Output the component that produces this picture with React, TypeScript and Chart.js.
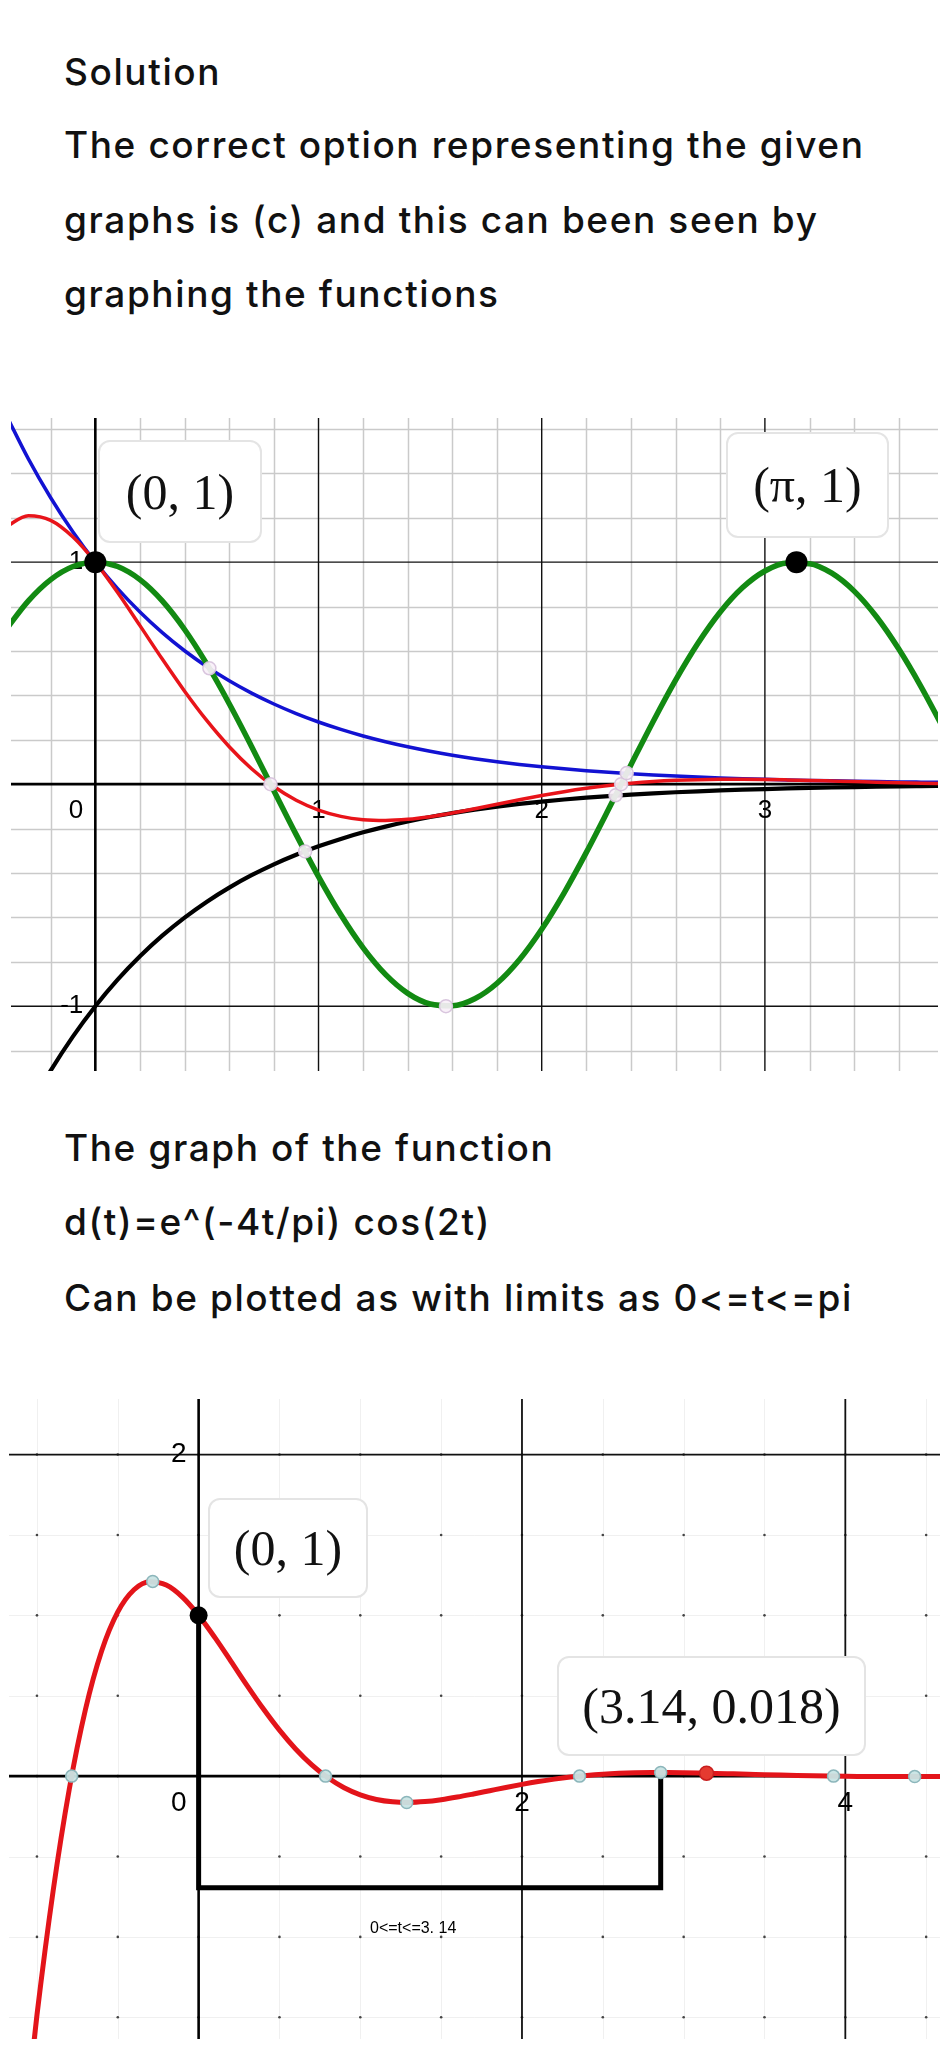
import React, { useEffect, useRef } from 'react';
import Chart from 'chart.js/auto';

// ---------- Graph 1 data (t, cos 2t, e^(-4t/pi), -e^(-4t/pi), product) ----------
const T1 = [-0.4, -0.3, -0.2, -0.1, 0, 0.1, 0.2, 0.3, 0.4, 0.5, 0.6, 0.7, 0.8, 0.9, 1.0, 1.1, 1.2, 1.3, 1.4, 1.5, 1.6, 1.7, 1.8, 1.9, 2.0, 2.1, 2.2, 2.3, 2.4, 2.5, 2.6, 2.7, 2.8, 2.9, 3.0, 3.1, 3.2, 3.3, 3.4, 3.5, 3.6, 3.7, 3.8];
const GREEN1 = [0.6967, 0.8253, 0.9211, 0.9801, 1, 0.9801, 0.9211, 0.8253, 0.6967, 0.5403, 0.3624, 0.17, -0.0292, -0.2272, -0.4161, -0.5885, -0.7374, -0.8569, -0.9422, -0.99, -0.9983, -0.9668, -0.8968, -0.791, -0.6536, -0.4903, -0.3073, -0.1122, 0.0875, 0.2837, 0.4685, 0.6347, 0.7756, 0.8855, 0.9602, 0.9965, 0.9932, 0.9502, 0.8694, 0.7539, 0.6084, 0.4385, 0.2513];
const BLUE1 = [1.6641, 1.4652, 1.29, 1.1358, 1, 0.8804, 0.7752, 0.6825, 0.6009, 0.5291, 0.4658, 0.4101, 0.3611, 0.3179, 0.2799, 0.2465, 0.217, 0.1911, 0.1682, 0.1481, 0.1304, 0.1148, 0.1011, 0.089, 0.0784, 0.069, 0.0607, 0.0535, 0.0471, 0.0415, 0.0365, 0.0321, 0.0283, 0.0249, 0.0219, 0.0193, 0.017, 0.015, 0.0132, 0.0116, 0.0102, 0.009, 0.0079];
const BLACK1 = [-1.6641, -1.4652, -1.29, -1.1358, -1, -0.8804, -0.7752, -0.6825, -0.6009, -0.5291, -0.4658, -0.4101, -0.3611, -0.3179, -0.2799, -0.2465, -0.217, -0.1911, -0.1682, -0.1481, -0.1304, -0.1148, -0.1011, -0.089, -0.0784, -0.069, -0.0607, -0.0535, -0.0471, -0.0415, -0.0365, -0.0321, -0.0283, -0.0249, -0.0219, -0.0193, -0.017, -0.015, -0.0132, -0.0116, -0.0102, -0.009, -0.0079];
const RED1 = [1.1594, 1.2092, 1.1882, 1.1132, 1, 0.8629, 0.714, 0.5633, 0.4187, 0.2859, 0.1688, 0.0697, -0.0105, -0.0722, -0.1165, -0.145, -0.16, -0.1637, -0.1585, -0.1466, -0.1302, -0.111, -0.0907, -0.0704, -0.0512, -0.0338, -0.0187, -0.006, 0.0041, 0.0118, 0.0171, 0.0204, 0.0219, 0.0221, 0.0211, 0.0192, 0.0169, 0.0142, 0.0115, 0.0087, 0.0062, 0.0039, 0.002];
const MARK1_X = [0.511, 0.785, 0.94, 1.571, 2.331, 2.356, 2.381];
const MARK1_Y = [0.522, 0, -0.303, -1, -0.05, 0, 0.05];
const BIG1_X = [0, 3.1416];
const BIG1_Y = [1, 1];
const X1_LABELS = [0, 1, 2, 3];
const Y1_LABELS = [1, -1];

// ---------- Graph 2 data d(t) = e^(-4t/pi) cos(2t) ----------
const T2 = [-1.2, -1.1, -1.0, -0.9, -0.8, -0.7, -0.6, -0.5, -0.4, -0.3, -0.2, -0.1, 0, 0.1, 0.2, 0.3, 0.4, 0.5, 0.6, 0.7, 0.8, 0.9, 1.0, 1.1, 1.2, 1.3, 1.4, 1.5, 1.6, 1.7, 1.8, 1.9, 2.0, 2.1, 2.2, 2.3, 2.4, 2.5, 2.6, 2.7, 2.8, 2.9, 3.0, 3.1, 3.2, 3.3, 3.4, 3.5, 3.6, 3.7, 3.8, 3.9, 4.0, 4.1, 4.2, 4.3, 4.4, 4.5, 4.6];
const D2 = [-3.398, -2.388, -1.4864, -0.7146, -0.0809, 0.4145, 0.778, 1.0212, 1.1594, 1.2092, 1.1882, 1.1132, 1, 0.8629, 0.714, 0.5633, 0.4187, 0.2859, 0.1688, 0.0697, -0.0105, -0.0722, -0.1165, -0.145, -0.16, -0.1637, -0.1585, -0.1466, -0.1302, -0.111, -0.0907, -0.0704, -0.0512, -0.0338, -0.0187, -0.006, 0.0041, 0.0118, 0.0171, 0.0204, 0.0219, 0.0221, 0.0211, 0.0192, 0.0169, 0.0142, 0.0115, 0.0087, 0.0062, 0.0039, 0.002, 0.0004, -0.0009, -0.0018, -0.0025, -0.0029, -0.003, -0.003, -0.0028];
const MARK2_X = [-0.785, -0.284, 0.785, 1.287, 2.356, 2.858, 3.927, 4.429];
const MARK2_Y = [0, 1.211, 0, -0.164, 0, 0.022, 0, -0.003];
const RED2_X = [3.1416];
const RED2_Y = [0.0183];
const BLACK2_X = [0];
const BLACK2_Y = [1];
const BRACKET_X = [0, 0, 2.858, 2.858];
const BRACKET_Y = [1, -0.695, -0.695, 0.022];
const X2_LABELS = [0, 2, 4];
const Y2_LABELS = [2];

const pts = (xs: number[], ys: number[]) => xs.map((x, i) => ({ x, y: ys[i] }));

const TEXT_FONT = 'Inter, "Noto Sans", sans-serif';
const SERIF = '"Liberation Serif", "DejaVu Serif", serif';
const TICK_FONT = '"Liberation Sans Narrow", "Liberation Sans", Arial, sans-serif';

type GridCfg = {
  minorStep: number;
  majorEvery: number;
  minorColor: string;
  minorWidth: number;
  dots: boolean;
  majorWidth: number;
  axisWidth: number;
  xLabels: number[];
  yLabels: number[];
  fontSize: number;
  xLabelDy: number;
};

function gridPlugin(cfg: GridCfg) {
  return {
    id: 'customGrid',
    beforeDatasetsDraw(chart: any) {
      const { ctx, chartArea, scales } = chart;
      const { left, right, top, bottom } = chartArea;
      const xs = scales.x;
      const ys = scales.y;
      ctx.save();
      const xi0 = Math.ceil(xs.min / cfg.minorStep);
      const xi1 = Math.floor(xs.max / cfg.minorStep);
      const yi0 = Math.ceil(ys.min / cfg.minorStep);
      const yi1 = Math.floor(ys.max / cfg.minorStep);
      // minor lines
      ctx.strokeStyle = cfg.minorColor;
      ctx.lineWidth = cfg.minorWidth;
      for (let i = xi0; i <= xi1; i++) {
        if (i % cfg.majorEvery === 0) continue;
        const px = Math.round(xs.getPixelForValue(i * cfg.minorStep)) + 0.5;
        ctx.beginPath();
        ctx.moveTo(px, top);
        ctx.lineTo(px, bottom);
        ctx.stroke();
      }
      for (let j = yi0; j <= yi1; j++) {
        if (j % cfg.majorEvery === 0) continue;
        const py = Math.round(ys.getPixelForValue(j * cfg.minorStep)) + 0.5;
        ctx.beginPath();
        ctx.moveTo(left, py);
        ctx.lineTo(right, py);
        ctx.stroke();
      }
      if (cfg.dots) {
        ctx.fillStyle = '#444';
        for (let i = xi0; i <= xi1; i++) {
          for (let j = yi0; j <= yi1; j++) {
            const px = xs.getPixelForValue(i * cfg.minorStep);
            const py = ys.getPixelForValue(j * cfg.minorStep);
            ctx.beginPath();
            ctx.arc(px, py, 1.3, 0, Math.PI * 2);
            ctx.fill();
          }
        }
      }
      // major lines
      ctx.strokeStyle = '#111';
      ctx.lineWidth = cfg.majorWidth;
      for (let i = xi0; i <= xi1; i++) {
        if (i % cfg.majorEvery !== 0 || i === 0) continue;
        const px = xs.getPixelForValue(i * cfg.minorStep);
        ctx.beginPath();
        ctx.moveTo(px, top);
        ctx.lineTo(px, bottom);
        ctx.stroke();
      }
      for (let j = yi0; j <= yi1; j++) {
        if (j % cfg.majorEvery !== 0 || j === 0) continue;
        const py = ys.getPixelForValue(j * cfg.minorStep);
        ctx.beginPath();
        ctx.moveTo(left, py);
        ctx.lineTo(right, py);
        ctx.stroke();
      }
      // axes
      ctx.strokeStyle = '#000';
      ctx.lineWidth = cfg.axisWidth;
      const ax = xs.getPixelForValue(0);
      const ay = ys.getPixelForValue(0);
      ctx.beginPath();
      ctx.moveTo(ax, top);
      ctx.lineTo(ax, bottom);
      ctx.stroke();
      ctx.beginPath();
      ctx.moveTo(left, ay);
      ctx.lineTo(right, ay);
      ctx.stroke();
      // tick labels
      ctx.fillStyle = '#000';
      ctx.font = `${cfg.fontSize}px ${TICK_FONT}`;
      ctx.textBaseline = 'middle';
      cfg.xLabels.forEach((v) => {
        const px = xs.getPixelForValue(v);
        if (v === 0) {
          ctx.textAlign = 'right';
          ctx.fillText(String(v), px - 12, ay + cfg.xLabelDy);
        } else {
          ctx.textAlign = 'center';
          ctx.fillText(String(v), px, ay + cfg.xLabelDy);
        }
      });
      ctx.textAlign = 'right';
      cfg.yLabels.forEach((v) => {
        const py = ys.getPixelForValue(v);
        ctx.fillText(v < 0 ? '-' + Math.abs(v) : String(v), ax - 12, py);
      });
      ctx.restore();
    },
  };
}

function useChart(ref: React.RefObject<HTMLCanvasElement | null>, build: () => any) {
  useEffect(() => {
    if (!ref.current) return;
    const chart = new Chart(ref.current, build());
    return () => chart.destroy();
  }, []);
}

const baseOptions = (xmin: number, xmax: number, ymin: number, ymax: number) => ({
  responsive: false,
  maintainAspectRatio: false,
  animation: false,
  events: [],
  layout: { padding: 0 },
  plugins: { legend: { display: false }, tooltip: { enabled: false } },
  scales: {
    x: { type: 'linear', min: xmin, max: xmax, display: false },
    y: { type: 'linear', min: ymin, max: ymax, display: false },
  },
});

const line = (data: any[], color: string, width: number, order: number) => ({
  data,
  showLine: true,
  borderColor: color,
  backgroundColor: color,
  borderWidth: width,
  pointRadius: 0,
  tension: 0.4,
  cubicInterpolationMode: 'monotone',
  borderCapStyle: 'round',
  order,
});

function Graph1() {
  const ref = useRef<HTMLCanvasElement>(null);
  useChart(ref, () => ({
    type: 'scatter',
    data: {
      datasets: [
        {
          data: pts(BIG1_X, BIG1_Y),
          pointRadius: 11,
          backgroundColor: '#000',
          borderColor: '#000',
          borderWidth: 0,
          showLine: false,
          order: 0,
        },
        {
          data: pts(MARK1_X, MARK1_Y),
          pointRadius: 6.5,
          backgroundColor: 'rgba(248,240,248,0.92)',
          borderColor: 'rgba(215,195,220,0.95)',
          borderWidth: 1.5,
          showLine: false,
          order: 1,
        },
        line(pts(T1, GREEN1), '#128a12', 5.5, 2),
        line(pts(T1, RED1), '#e8141a', 3.5, 3),
        line(pts(T1, BLUE1), '#1212d2', 3.5, 4),
        line(pts(T1, BLACK1), '#000000', 4.2, 5),
      ],
    },
    options: baseOptions(-0.3778, 3.7756, -1.2919, 1.6492),
    plugins: [
      gridPlugin({
        minorStep: 0.2,
        majorEvery: 5,
        minorColor: '#cacaca',
        minorWidth: 1.5,
        dots: false,
        majorWidth: 1.4,
        axisWidth: 2.6,
        xLabels: X1_LABELS,
        yLabels: Y1_LABELS,
        fontSize: 26,
        xLabelDy: 27,
      }),
    ],
  }));
  return <canvas ref={ref} width={949} height={675} style={{ position: 'absolute', left: 0, top: 407, width: 949, height: 675 }} />;
}

function Graph2() {
  const ref = useRef<HTMLCanvasElement>(null);
  useChart(ref, () => ({
    type: 'scatter',
    data: {
      datasets: [
        {
          data: pts(BLACK2_X, BLACK2_Y),
          pointRadius: 9,
          backgroundColor: '#000',
          borderColor: '#000',
          borderWidth: 0,
          showLine: false,
          order: 0,
        },
        {
          data: pts(RED2_X, RED2_Y),
          pointRadius: 7,
          backgroundColor: '#e53a30',
          borderColor: '#c81e1e',
          borderWidth: 1.5,
          showLine: false,
          order: 1,
        },
        {
          data: pts(MARK2_X, MARK2_Y),
          pointRadius: 6,
          backgroundColor: 'rgba(200,228,228,0.95)',
          borderColor: '#8cb6bb',
          borderWidth: 1.5,
          showLine: false,
          order: 2,
        },
        line(pts(T2, D2), '#e3141a', 5, 3),
        {
          data: pts(BRACKET_X, BRACKET_Y),
          showLine: true,
          borderColor: '#000',
          backgroundColor: '#000',
          borderWidth: 5,
          pointRadius: 0,
          tension: 0,
          order: 4,
        },
      ],
    },
    options: baseOptions(-1.1729, 4.5856, -1.635, 2.3455),
    plugins: [
      gridPlugin({
        minorStep: 0.5,
        majorEvery: 4,
        minorColor: 'rgba(0,0,0,0.06)',
        minorWidth: 1,
        dots: true,
        majorWidth: 1.8,
        axisWidth: 2.6,
        xLabels: X2_LABELS,
        yLabels: Y2_LABELS,
        fontSize: 28,
        xLabelDy: 27,
      }),
    ],
  }));
  return <canvas ref={ref} width={949} height={658} style={{ position: 'absolute', left: 0, top: 1390, width: 949, height: 658 }} />;
}

function TextLine({ text, baseline }: { text: string; baseline: number }) {
  return (
    <div
      style={{
        position: 'absolute',
        left: 64,
        top: baseline - 32,
        fontFamily: TEXT_FONT,
        fontSize: 37,
        fontWeight: 500,
        letterSpacing: '1.6px',
        lineHeight: '37px',
        color: '#111',
        whiteSpace: 'nowrap',
      }}
    >
      {text}
    </div>
  );
}

function LabelBox({ text, left, top, width, height }: { text: string; left: number; top: number; width: number; height: number }) {
  return (
    <div
      style={{
        position: 'absolute',
        left,
        top,
        width,
        height,
        boxSizing: 'border-box',
        background: '#fff',
        border: '2px solid #e4e4e4',
        borderRadius: 12,
        display: 'flex',
        alignItems: 'center',
        justifyContent: 'center',
        fontFamily: SERIF,
        fontSize: 50,
        color: '#111',
        whiteSpace: 'nowrap',
      }}
    >
      {text}
    </div>
  );
}

export default function App() {
  return (
    <div style={{ position: 'absolute', left: 0, top: 0, width: 949, height: 2048, background: '#fff', overflow: 'hidden' }}>
      <TextLine text="Solution" baseline={85} />
      <TextLine text="The correct option representing the given" baseline={158} />
      <TextLine text="graphs is (c) and this can been seen by" baseline={233} />
      <TextLine text="graphing the functions" baseline={307} />

      <Graph1 />
      <LabelBox text="(0, 1)" left={98} top={440} width={164} height={103} />
      <LabelBox text="(π, 1)" left={726} top={432} width={163} height={106} />

      <TextLine text="The graph of the function" baseline={1161} />
      <TextLine text="d(t)=e^(-4t/pi) cos(2t)" baseline={1235} />
      <TextLine text="Can be plotted as with limits as 0<=t<=pi" baseline={1311} />

      <Graph2 />
      <LabelBox text="(0, 1)" left={208} top={1498} width={160} height={100} />
      <LabelBox text="(3.14, 0.018)" left={557} top={1656} width={309} height={100} />
      <div
        style={{
          position: 'absolute',
          left: 370,
          top: 1919,
          fontFamily: TICK_FONT,
          fontSize: 16,
          lineHeight: '18px',
          color: '#000',
          whiteSpace: 'nowrap',
        }}
      >
        0&lt;=t&lt;=3. 14
      </div>
    </div>
  );
}
